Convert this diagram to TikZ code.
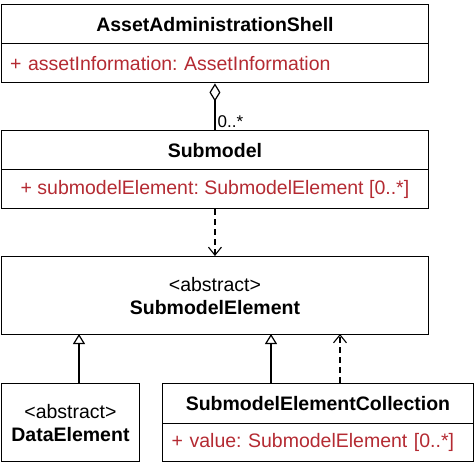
\documentclass[tikz,border=0pt]{standalone}
\usepackage{fontspec}
\setmainfont{Liberation Sans}
\usetikzlibrary{arrows.meta}
\definecolor{attrred}{RGB}{180,42,50}
\frenchspacing
\tikzset{
  umlbox/.style={draw, line width=1.4pt, inner sep=0pt, anchor=north west,
    font=\fontsize{19.5}{23}\selectfont, align=center},
  titlebox/.style={umlbox, font=\fontsize{19.5}{23}\selectfont\bfseries},
  attrbox/.style={umlbox, text=attrred},
  conn/.style={line width=1.4pt},
  dashconn/.style={line width=1.4pt, dash pattern=on 6pt off 4pt},
  aggr/.tip={Diamond[open, length=18pt, width=11pt, line width=1.2pt]},
  inher/.tip={Triangle[open, length=10pt, width=12pt, line width=1.2pt]},
  dep/.tip={Straight Barb[length=8pt, width=13pt, line width=1.1pt]},
}
\begin{document}
\begin{tikzpicture}[x=1pt, y=-1pt]
\useasboundingbox (0,0) rectangle (474,474);
% AssetAdministrationShell
\node[titlebox, minimum width=427.5pt, minimum height=39pt] (aasT) at (0.5,4) {AssetAdministrationShell};
\node[attrbox, minimum width=427.5pt, minimum height=39pt, inner xsep=9pt, text width=409.5pt, align=left] (aasA) at (0.5,43) {+ assetInformation: AssetInformation};
% Submodel
\node[titlebox, minimum width=427.5pt, minimum height=39pt] (smT) at (0.5,130) {Submodel};
\node[attrbox, minimum width=427.5pt, minimum height=39pt] (smA) at (0.5,169) {+ submodelElement: SubmodelElement [0..*]};
% SubmodelElement
\node[umlbox, minimum width=427.5pt, minimum height=78pt] (se) at (0.5,256) {<abstract>\\\textbf{SubmodelElement}};
% DataElement
\node[umlbox, minimum width=138.5pt, minimum height=78pt] (de) at (0.5,383) {<abstract>\\\textbf{DataElement}};
% SubmodelElementCollection
\node[titlebox, minimum width=310.5pt, minimum height=40pt] (smcT) at (162,383) {SubmodelElementCollection};
\node[attrbox, minimum width=310.5pt, minimum height=38pt, inner xsep=9pt, text width=292.5pt, align=left] (smcA) at (162,423) {+ value: SubmodelElement [0..*]};
% connectors
\draw[conn, {aggr}-] (aasA.south) -- (smT.north) node[pos=0.82, right, inner sep=2pt, font=\fontsize{17}{20}\selectfont] {0..*};
\draw[dashconn, -{dep}] (smA.south) -- (se.north);
\coordinate (deTop) at (79,383);
\coordinate (seB1) at (79,334);
\draw[conn, -{inher}] (deTop) -- (seB1);
\coordinate (smcTop1) at (271,383);
\coordinate (seB2) at (271,334);
\draw[conn, -{inher}] (smcTop1) -- (seB2);
\coordinate (smcTop2) at (340,383);
\coordinate (seB3) at (340,334);
\draw[dashconn, -{dep}] (smcTop2) -- (seB3);
\end{tikzpicture}
\end{document}
